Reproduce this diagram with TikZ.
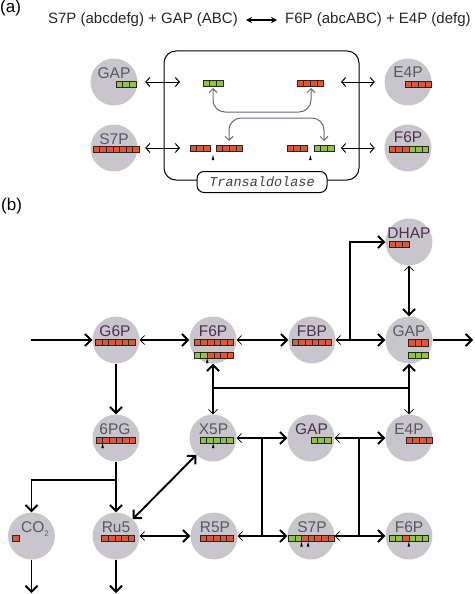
\documentclass[tikz,border=0pt]{standalone}
\usepackage{fontspec}
\setmainfont{Liberation Sans}
\newfontfamily\enzymefont{Liberation Mono}
\usepackage{xcolor}
\definecolor{molgray}{RGB}{200,198,204}
\definecolor{labgray}{RGB}{88,88,98}
\definecolor{labpurple}{RGB}{80,48,82}
\definecolor{cR}{RGB}{232,84,48}
\definecolor{cG}{RGB}{142,196,62}
\definecolor{shuttlegray}{RGB}{105,105,125}
\usepackage{tikz}
\usetikzlibrary{
    arrows.meta,
    positioning
}
\tikzstyle{fwd} = [
    line width=1.9pt,
    -{Straight Barb[length=6pt, width=12pt]}
]
\tikzstyle{rev} = [
    line width=1.9pt,
    {Straight Barb[length=4.5pt, width=9pt, line width=0.7pt]}-{Straight Barb[length=6pt, width=12pt]}
]
\tikzstyle{revstart} = [
    line width=1.9pt,
    {Straight Barb[length=4.5pt, width=9pt, line width=0.7pt]}-
]
\newcommand{\carbons}[3]{%
  \foreach \c [count=\i from 0] in {#3}
    \draw[cell, fill=c\c] ({#1+\i*6.6},{#2-3.2}) rectangle ++(6.6,6.4);%
}
\newcommand{\cleave}[2]{\fill (#1,#2) -- ++(1.3,5) -- ++(-2.6,0) -- cycle;}

\begin{document}
\begin{tikzpicture}[
  x=1pt, y=-1pt,
  mol/.style={circle, fill=molgray, minimum size=47pt, inner sep=0pt},
  lab/.style={font=\fontsize{15.5}{16}\selectfont, text=labgray, inner sep=0pt, text height=11pt, text depth=0pt},
  labp/.style={lab, text=labpurple},
  panel/.style={font=\fontsize{17}{18}\selectfont, inner sep=0pt},
  eqn/.style={font=\fontsize{15}{16}\selectfont, inner sep=0pt, text=black!85},
  cell/.style={draw=black!85, line width=0.6pt},
  plain/.style={line width=1.9pt},
  both/.style={line width=1.9pt, {Straight Barb[length=6pt, width=12pt]}-{Straight Barb[length=6pt, width=12pt]}},
  exch/.style={line width=1pt, {Straight Barb[length=4pt, width=9pt]}-{Straight Barb[length=4pt, width=9pt]}},
  shuttle/.style={draw=shuttlegray, line width=1pt, rounded corners=12pt, {Straight Barb[length=4pt, width=8pt]}-{Straight Barb[length=4pt, width=8pt]}},
  enzyme/.style={draw, line width=1pt, rounded corners=12pt, minimum width=195pt, minimum height=129pt},
  enzlabel/.style={draw, fill=white, line width=1pt, rounded corners=7pt, minimum width=130pt, minimum height=21pt, font=\enzymefont\itshape\fontsize{13.5}{14}\selectfont, text=black!75}
]
\useasboundingbox (0,0) rectangle (474,594);

% (a)
\node[panel, anchor=base west] (pa) at (0,13) {(a)};
\node[eqn, anchor=base east] (lhs) at (238,24) {S7P (abcdefg) + GAP (ABC)};
\node[eqn, anchor=base west] (rhs) at (285,24) {F6P (abcABC) + E4P (defg)};
\draw[line width=1.6pt, {Stealth[length=6pt, width=6pt]}-{Stealth[length=6pt, width=6pt]}, shorten <=8pt, shorten >=8pt] (lhs) -- (rhs);

\node[enzyme] (box) at (261.5,115.5) {};
\node[enzlabel] (talabel) at (262,182) {Transaldolase};

\node[mol] (gap-a) at (114,82) {};
\node[mol] (s7p-a) at (114,148) {};
\node[mol] (e4p-a) at (408,82) {};
\node[mol] (f6p-a) at (408,148) {};
\node[lab] (gap-a-t) at (114,73) {GAP};
\node[lab] (s7p-a-t) at (114,138.5) {S7P};
\node[lab] (e4p-a-t) at (408,72) {E4P};
\node[labp] (f6p-a-t) at (408,137) {F6P};
\carbons{116}{84}{G,G,G}
\carbons{93}{149}{R,R,R,R,R,R,R}
\carbons{405}{84}{R,R,R,R}
\carbons{389}{149}{R,R,R,G,G,G}

\carbons{203}{83.5}{G,G,G}
\carbons{297}{83.5}{R,R,R,R}
\carbons{190}{148.5}{R,R,R}
\carbons{216}{148.5}{R,R,R,R}
\cleave{213}{155}
\carbons{287}{148.5}{R,R,R}
\carbons{314}{148.5}{G,G,G}
\cleave{310.4}{155}

\coordinate (gap-in) at (180,82);
\coordinate (s7p-in) at (180,148);
\coordinate (e4p-in) at (341,82);
\coordinate (f6p-in) at (341,148);
\draw[exch, shorten <=7.5pt] (gap-a) -- (gap-in);
\draw[exch, shorten <=7.5pt] (s7p-a) -- (s7p-in);
\draw[exch, shorten <=9.5pt] (e4p-a) -- (e4p-in);
\draw[exch, shorten <=9.5pt] (f6p-a) -- (f6p-in);

\coordinate (ga-top) at (213,88);
\coordinate (ea-top) at (311,88);
\coordinate (sa-bot) at (229,141);
\coordinate (fa-bot) at (324,141);
\draw[shuttle] (ga-top) -- ++(0,24) -| (ea-top);
\draw[shuttle] (sa-bot) -- ++(0,-23) -| (fa-bot);

% (b)
\node[panel, anchor=base west] (pb) at (1,210.5) {(b)};

\node[mol] (g6p) at (116,340) {};
\node[mol] (f6p) at (213,340) {};
\node[mol] (fbp) at (312,340) {};
\node[mol] (gap-b) at (409,340) {};
\node[mol] (dhap) at (409,242) {};
\node[mol] (pg6) at (116,438) {};
\node[mol] (x5p) at (213,438) {};
\node[mol] (gap-m) at (311,438) {};
\node[mol] (e4p) at (409,438) {};
\node[mol] (co2) at (31.5,536) {};
\node[mol] (ru5) at (116,536) {};
\node[mol] (r5p) at (214,536) {};
\node[mol] (s7p) at (311,536) {};
\node[mol] (f6p-m) at (409,536) {};

\node[labp] (g6p-t) at (115,331) {G6P};
\node[labp] (f6p-t) at (213,331) {F6P};
\node[labp] (fbp-t) at (312,331) {FBP};
\node[lab] (gap-b-t) at (409,331) {GAP};
\node[labp] (dhap-t) at (409,233) {DHAP};
\node[lab] (pg6-t) at (115,429) {6PG};
\node[lab] (x5p-t) at (213.5,429) {X5P};
\node[labp] (gap-m-t) at (311.5,429) {GAP};
\node[lab] (e4p-t) at (409,429) {E4P};
\node[lab] (co2-t) at (35,527) {CO\raisebox{-3.5pt}{\fontsize{8}{8}\selectfont 2}};
\node[lab] (ru5-t) at (116,527) {Ru5};
\node[lab] (r5p-t) at (215,527) {R5P};
\node[lab] (s7p-t) at (312,527) {S7P};
\node[lab] (f6p-m-t) at (409,527) {F6P};

\carbons{95.5}{342.5}{R,R,R,R,R,R}
\carbons{194}{342}{R,R,R,R,R,R}
\carbons{194}{355}{G,G,R,R,R,R}
\cleave{207.2}{358.2}
\carbons{292}{342.5}{R,R,R,R,R,R}
\carbons{408.5}{342.8}{R,R,R}
\carbons{408.5}{355}{G,G,G}
\carbons{389}{244.5}{R,R,R}
\carbons{96}{440}{R,R,R,R,R,R}
\cleave{102.6}{443.2}
\carbons{200}{440}{G,G,G,G,G}
\cleave{213.2}{443.2}
\carbons{311}{440.5}{G,G,G}
\carbons{406}{440.5}{R,R,R,R}
\carbons{12.3}{538.5}{R}
\carbons{101.7}{538.5}{R,R,R,R,R}
\carbons{200}{538.5}{R,R,R,R,R}
\carbons{288.3}{538.5}{G,G,R,R,R,R,R}
\cleave{301.5}{541.7}
\cleave{308.1}{541.7}
\carbons{389}{538.5}{G,G,R,G,G,G}
\cleave{408.8}{541.7}

\coordinate (glc) at (31,340);
\coordinate (fbp-split) at (350,340);
\coordinate (pyr) at (473,340);
\coordinate (pg-split) at (116,480);
\coordinate (co2-out) at (31.5,593);
\coordinate (ru5-out) at (116,593);
\coordinate (tk-left) at (213,388);
\coordinate (tk-right) at (409,388);
\coordinate (tk-up) at (262,438);
\coordinate (tk-down) at (262,536);
\coordinate (ta-up) at (359,438);
\coordinate (ta-down) at (359,536);

\draw[fwd] (glc) -- (g6p);
\draw[rev] (g6p) -- (f6p);
\draw[rev] (f6p) -- (fbp);
\draw[revstart] (fbp) -- (fbp-split);
\draw[fwd] (fbp-split) -- (gap-b);
\draw[fwd] (fbp-split) |- (dhap);
\draw[rev] (dhap) -- (gap-b);
\draw[fwd] (gap-b) -- (pyr);

\draw[fwd] (g6p) -- (pg6);
\draw[plain] (pg6) -- (pg-split);
\draw[fwd] (pg-split) -- (ru5);
\draw[fwd] (pg-split) -| (co2);
\draw[fwd] (co2) -- (co2-out);
\draw[fwd] (ru5) -- (ru5-out);
\draw[rev] (ru5) -- (r5p);
\draw[both] (ru5) -- (x5p);

\draw[rev] (x5p) -- (f6p);
\draw[rev] (e4p) -- (gap-b);
\draw[plain] (tk-left) -- (tk-right);

\draw[revstart] (x5p) -- (tk-up);
\draw[fwd] (tk-up) -- (gap-m);
\draw[plain] (tk-up) -- (tk-down);
\draw[revstart] (r5p) -- (tk-down);
\draw[fwd] (tk-down) -- (s7p);

\draw[revstart] (gap-m) -- (ta-up);
\draw[fwd] (ta-up) -- (e4p);
\draw[plain] (ta-up) -- (ta-down);
\draw[revstart] (s7p) -- (ta-down);
\draw[fwd] (ta-down) -- (f6p-m);

\end{tikzpicture}
\end{document}
